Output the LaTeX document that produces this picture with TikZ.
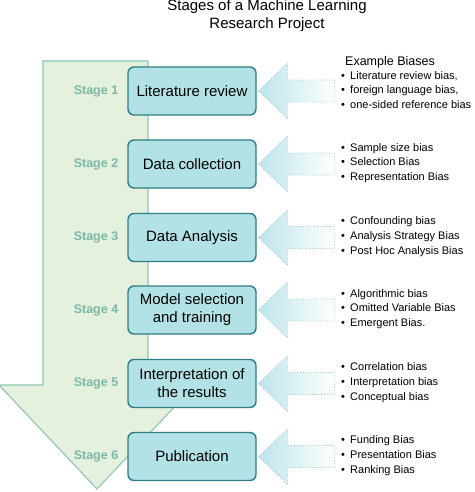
\documentclass[tikz,border=0pt]{standalone}
\usepackage{fontspec}
\setmainfont{Liberation Sans}
\usetikzlibrary{calc}
\definecolor{boxfill}{HTML}{B2E2E6}
\definecolor{boxline}{HTML}{2F7E85}
\definecolor{arrfill}{HTML}{E3F1DD}
\definecolor{arrline}{HTML}{8EC5B9}
\definecolor{stagecol}{HTML}{7DB8A8}
\definecolor{hollowline}{HTML}{9CC6CE}
\definecolor{hollowfill}{HTML}{BDE5EB}
\newcommand{\bl}[1]{\makebox[9pt][l]{\textbullet}#1}
\begin{document}
\begin{tikzpicture}[x=1pt,y=-1pt,
 stagebox/.style={draw=boxline, fill=boxfill, line width=1.4pt, rounded corners=6pt, minimum width=128pt, minimum height=48pt, align=center, font=\fontsize{15}{18}\selectfont, inner sep=0pt},
 stagelabel/.style={text=stagecol, font=\fontsize{12.5}{15}\selectfont\bfseries, inner sep=0pt},
 biaslist/.style={anchor=west, align=left, font=\fontsize{11}{14.7}\selectfont, inner sep=0pt},
 bigarrow/.style={fill=arrfill, draw=arrline, line width=1.1pt, line join=miter},
 hollow/.style={draw=hollowline, dotted, line width=0.9pt},
]
\useasboundingbox (0,0) rectangle (474,492);
% title
\node[align=center, font=\fontsize{15}{18}\selectfont] (title) at (267,16) {Stages of a Machine Learning\\Research Project};
\node[anchor=west, font=\fontsize{12.5}{15}\selectfont, inner sep=0pt] (ex) at (345,62) {Example Biases};
% big arrow
\draw[bigarrow] (43,61) -- (148,61) -- (148,385) -- (195,385) -- (97,489) -- (-1,385) -- (43,385) -- cycle;
% stage boxes
\node[stagebox] (b1) at (192,91) {Literature review};
\node[stagebox] (b2) at (192,164) {Data collection};
\node[stagebox] (b3) at (192,237.5) {Data Analysis};
\node[stagebox] (b4) at (192,310) {Model selection\\and training};
\node[stagebox] (b5) at (192,383.5) {Interpretation of\\the results};
\node[stagebox] (b6) at (192,456.5) {Publication};
% stage labels
\node[stagelabel] (s1) at (96,91) {Stage 1};
\node[stagelabel] (s2) at (96,164) {Stage 2};
\node[stagelabel] (s3) at (96,237.5) {Stage 3};
\node[stagelabel] (s4) at (96,310) {Stage 4};
\node[stagelabel] (s5) at (96,383.5) {Stage 5};
\node[stagelabel] (s6) at (96,456.5) {Stage 6};
% hollow arrows
\foreach \n in {1,...,6}{
  \path (b\n.east) ++(2,0) coordinate (t\n);
  \shade[left color=hollowfill, right color=white] (t\n) -- ++(29,-28) -- ++(0,17) -- ++(47,0) -- ++(0,22) -- ++(-47,0) -- ++(0,17) -- cycle;
  \draw[hollow] (t\n) -- ++(29,-28) -- ++(0,17) -- ++(47,0) -- ++(0,22) -- ++(-47,0) -- ++(0,17) -- cycle;
}
% bias lists
\node[biaslist] (l1) at (341,90) {\bl{Literature review bias,}\\\bl{foreign language bias,}\\\bl{one-sided reference bias}};
\node[biaslist] (l2) at (341,163) {\bl{Sample size bias}\\\bl{Selection Bias}\\\bl{Representation Bias}};
\node[biaslist] (l3) at (341,236.5) {\bl{Confounding bias}\\\bl{Analysis Strategy Bias}\\\bl{Post Hoc Analysis Bias}};
\node[biaslist] (l4) at (341,309) {\bl{Algorithmic bias}\\\bl{Omitted Variable Bias}\\\bl{Emergent Bias.}};
\node[biaslist] (l5) at (341,382.5) {\bl{Correlation bias}\\\bl{Interpretation bias}\\\bl{Conceptual bias}};
\node[biaslist] (l6) at (341,455.5) {\bl{Funding Bias}\\\bl{Presentation Bias}\\\bl{Ranking Bias}};
\end{tikzpicture}
\end{document}
